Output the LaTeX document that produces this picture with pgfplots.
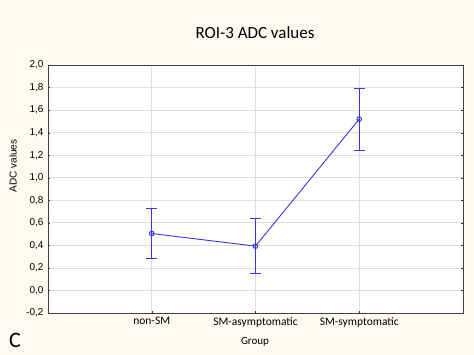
\documentclass[border=0pt]{standalone}
\usepackage{fontspec}
\setmainfont{Carlito}
\newfontfamily\arialfont{Liberation Sans}
\usepackage{pgfplots}
\pgfplotsset{compat=1.18}
\definecolor{bgcream}{RGB}{253,250,241}
\definecolor{lineblue}{RGB}{55,55,230}
\definecolor{gridgray}{RGB}{222,222,222}
\begin{document}
\begin{tikzpicture}[x=1pt,y=1pt]
\fill[bgcream] (0,0) rectangle (474,355);
\path[use as bounding box] (0,0) rectangle (474,355);
\begin{axis}[
  at={(48pt,42pt)}, anchor=south west,
  scale only axis, width=415pt, height=248pt,
  xmin=-1, xmax=3, ymin=-0.2, ymax=2.0,
  axis background/.style={fill=white},
  xtick={0,1,2}, xticklabels={non-SM,SM-asymptomatic,SM-symptomatic},
  ytick={-0.2,0,0.2,0.4,0.6,0.8,1.0,1.2,1.4,1.6,1.8,2.0},
  /pgf/number format/assume math mode=true,
  yticklabel style={font=\arialfont\fontsize{10}{11}\selectfont, xshift=-1pt, /pgf/number format/.cd, fixed, fixed zerofill, precision=1, use comma},
  xticklabel style={font=\fontsize{11.5}{12}\selectfont, yshift=-1pt},
  grid=major, major grid style={gridgray, line width=0.7pt},
  tick align=inside, major tick length=2pt,
  tick style={black!80},
  axis line style={black!75, line width=0.8pt},
  xtick pos=bottom,
  ytick pos=both,
  yticklabel pos=left,
  clip=false,
]
\addplot[lineblue, line width=0.9pt, mark=o, mark size=2.3pt,
  mark options={solid, fill=white, line width=1pt},
  error bars/.cd, y dir=both, y explicit,
  error bar style={lineblue, line width=1.1pt},
  error mark options={rotate=90, mark size=5.5pt, lineblue, line width=1.1pt}]
  coordinates {
  (0,0.505) +- (0,0.225)
  (1,0.393) +- (0,0.245)
  (2,1.52) +- (0,0.275)
  };
\end{axis}
\node[font=\fontsize{17}{19}\selectfont] at (255,322) {ROI-3 ADC values};
\node[font=\fontsize{11}{12}\selectfont] at (255,13) {Group};
\node[font=\arialfont\fontsize{10}{11}\selectfont, rotate=90] at (13,189) {ADC values};
\node[font=\fontsize{22}{24}\selectfont] at (15,15) {C};
\end{tikzpicture}
\end{document}
